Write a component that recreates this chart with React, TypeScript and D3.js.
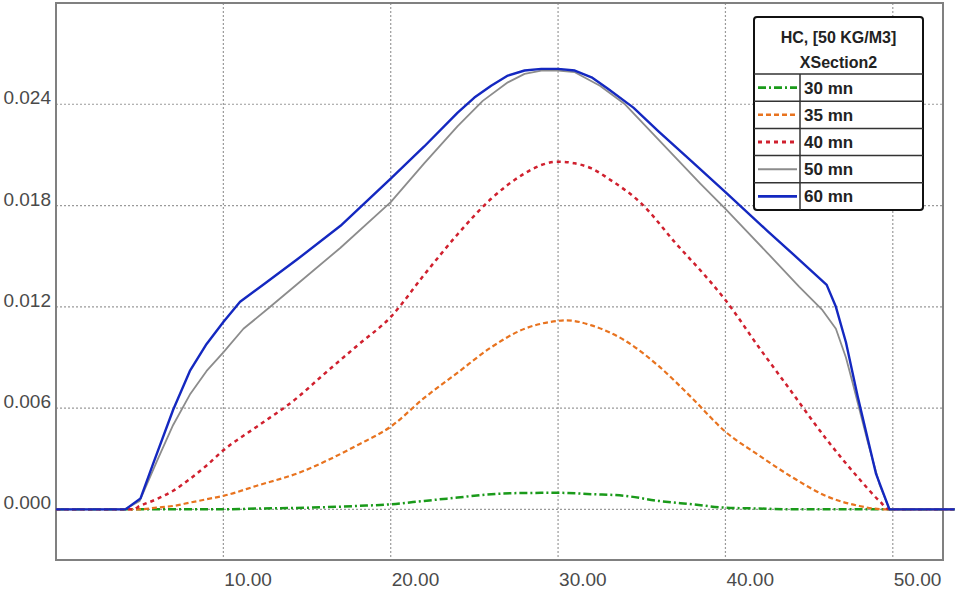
import React from "react";
import * as d3 from "d3";

const legendTitle = ["HC, [50 KG/M3]", "XSection2"];
const seriesNames = ["30 mn", "35 mn", "40 mn", "50 mn", "60 mn"];
const xTicks = [10, 20, 30, 40, 50];
const yTicks = [0, 0.006, 0.012, 0.018, 0.024];

const x30 = [0, 10, 12, 15, 18, 20, 22, 24, 26, 28, 30, 32, 34, 36, 38, 40, 42, 44, 53.7];
const y30 = [0, 0, 0.00005, 0.0001, 0.0002, 0.0003, 0.0005, 0.0007, 0.0009, 0.00097, 0.00098, 0.0009, 0.0008, 0.0005, 0.0003, 0.0001, 0.00005, 0, 0];

const x35 = [0, 5, 6, 7, 8, 9, 10, 12, 14.6, 16, 18, 20, 22, 24, 26, 28, 29.5, 30.5, 32, 34, 36, 38, 40, 42, 44, 46, 48, 49.5, 53.7];
const y35 = [0, 0, 0.0001, 0.0002, 0.0004, 0.0006, 0.0008, 0.0014, 0.0022, 0.0028, 0.0038, 0.0049, 0.0066, 0.0081, 0.0096, 0.0107, 0.0111, 0.0112, 0.0109, 0.01, 0.0085, 0.0066, 0.0046, 0.0032, 0.0019, 0.0008, 0.0002, 0, 0];

const x40 = [0, 4.6, 5, 6, 7, 8, 9, 10, 12, 14.4, 16, 18, 20, 22, 24, 26, 28, 29, 30, 31, 32, 33, 35, 37, 39, 40, 42, 44, 46, 48, 49.2, 49.8, 53.7];
const y40 = [0, 0, 0.0002, 0.0006, 0.0011, 0.0018, 0.0026, 0.0035, 0.0049, 0.0066, 0.008, 0.0097, 0.0114, 0.0139, 0.0163, 0.0184, 0.0199, 0.0204, 0.0206, 0.0205, 0.0202, 0.0196, 0.0181, 0.0158, 0.0136, 0.0124, 0.0096, 0.0069, 0.0042, 0.0018, 0.0005, 0, 0];

const x50 = [0, 4.1, 5, 6.05, 7, 8, 9, 10, 11.2, 12.8, 14.6, 17, 20, 22, 24, 25.5, 27, 28, 29, 30, 31, 32.5, 34, 36, 38.5, 40, 42.5, 44.4, 45.8, 46.6, 47.2, 47.6, 48.5, 49.2, 49.8, 53.7];
const y50 = [0, 0, 0.0005, 0.0029, 0.005, 0.0068, 0.0082, 0.0093, 0.0107, 0.012, 0.0135, 0.0155, 0.0182, 0.0205, 0.0227, 0.0242, 0.0253, 0.0258, 0.026, 0.026, 0.0259, 0.0251, 0.024, 0.0219, 0.0193, 0.0178, 0.0152, 0.0132, 0.0118, 0.0107, 0.009, 0.0075, 0.004, 0.0015, 0, 0];

const x60 = [0, 4.15, 5.05, 5.8, 7, 8, 9, 10, 11, 12.5, 14.4, 17, 20, 22, 24, 25, 26, 27, 28, 29, 30, 31, 32, 33, 34.5, 36, 38, 40, 42.5, 44.4, 46.05, 46.6, 47.2, 47.9, 49, 49.8, 53.7];
const y60 = [0, 0, 0.00065, 0.0027, 0.0059, 0.0082, 0.0098, 0.0111, 0.0123, 0.0134, 0.0148, 0.0168, 0.0196, 0.0215, 0.0235, 0.0244, 0.0251, 0.0257, 0.026, 0.0261, 0.0261, 0.026, 0.0256, 0.0249, 0.0238, 0.0224, 0.0206, 0.0188, 0.0165, 0.0148, 0.0133, 0.012, 0.0099, 0.0067, 0.0021, 0, 0];

const seriesX = [x30, x35, x40, x50, x60];
const seriesY = [y30, y35, y40, y50, y60];
const colors = ["#1a9a1a", "#e8731f", "#d0202e", "#8c8c8c", "#1428c0"];
const dashes = ["8,3,2,3", "5,3", "4,4", "", ""];
const widths = [2.5, 2.2, 2.5, 1.8, 2.4];
const smooth = [true, true, true, false, false];

const FONT = "'Liberation Sans', Arial, sans-serif";

export default function App() {
  const W = 955, H = 592;
  const left = 56, right = 943, top = 3, bottom = 560;
  const x = d3.scaleLinear().domain([0, 53]).range([left, right]);
  const y = d3.scaleLinear().domain([-0.003, 0.03]).range([bottom, top]);

  const makeLine = (s: boolean) =>
    d3
      .line<[number, number]>()
      .x((d) => x(d[0]))
      .y((d) => y(d[1]))
      .curve(s ? d3.curveMonotoneX : d3.curveLinear);

  const lgL = 754, lgR = 923, lgT = 17, lgB = 210;
  const rowTop = 74;
  const rowH = (lgB - rowTop) / seriesNames.length;
  const divX = 800;

  return (
    <svg width={W} height={H} style={{ position: "absolute", left: 0, top: 0, background: "#fff" }}>
      <rect x={0} y={0} width={W} height={H} fill="#fff" />
      {xTicks.map((t) => (
        <line key={"gx" + t} x1={x(t)} x2={x(t)} y1={top} y2={bottom} stroke="#9a9a9a" strokeWidth={1.2} strokeDasharray="2,2" />
      ))}
      {yTicks.map((t) => (
        <line key={"gy" + t} x1={left} x2={right} y1={y(t)} y2={y(t)} stroke="#9a9a9a" strokeWidth={1.2} strokeDasharray="2,2" />
      ))}
      <rect x={left} y={top} width={right - left} height={bottom - top} fill="none" stroke="#808080" strokeWidth={2} />
      {xTicks.map((t) => (
        <text key={"tx" + t} x={x(t) + 1} y={586} fontFamily={FONT} fontSize={19} fill="#4a4a4a" textAnchor="start">
          {t.toFixed(2)}
        </text>
      ))}
      {yTicks.map((t) => (
        <text key={"ty" + t} x={51} y={y(t)} fontFamily={FONT} fontSize={19} fill="#4a4a4a" textAnchor="end">
          {t.toFixed(3)}
        </text>
      ))}
      {seriesX.map((xs, i) => (
        <path
          key={"s" + i}
          d={makeLine(smooth[i])(xs.map((v, j) => [v, seriesY[i][j]] as [number, number])) || ""}
          fill="none"
          stroke={colors[i]}
          strokeWidth={widths[i]}
          strokeLinejoin="round"
          strokeDasharray={dashes[i] || undefined}
        />
      ))}
      <rect x={lgL} y={lgT} width={lgR - lgL} height={lgB - lgT} rx={3} fill="#fff" stroke="#111" strokeWidth={2} />
      {legendTitle.map((t, i) => (
        <text key={"lt" + i} x={(lgL + lgR) / 2} y={43 + i * 25} fontFamily={FONT} fontSize={16} fontWeight="bold" fill="#222" textAnchor="middle">
          {t}
        </text>
      ))}
      <line x1={divX} x2={divX} y1={rowTop} y2={lgB} stroke="#333" strokeWidth={1.5} />
      {seriesNames.map((n, i) => {
        const ry = rowTop + i * rowH;
        return (
          <g key={"lg" + i}>
            <line x1={lgL} x2={lgR} y1={ry} y2={ry} stroke="#333" strokeWidth={1.5} />
            <line x1={758} x2={797} y1={ry + rowH / 2} y2={ry + rowH / 2} stroke={colors[i]} strokeWidth={widths[i] + 0.3} strokeDasharray={dashes[i] || undefined} />
            <text x={804} y={ry + rowH / 2 + 6} fontFamily={FONT} fontSize={17} fontWeight="bold" fill="#222">
              {n}
            </text>
          </g>
        );
      })}
    </svg>
  );
}
